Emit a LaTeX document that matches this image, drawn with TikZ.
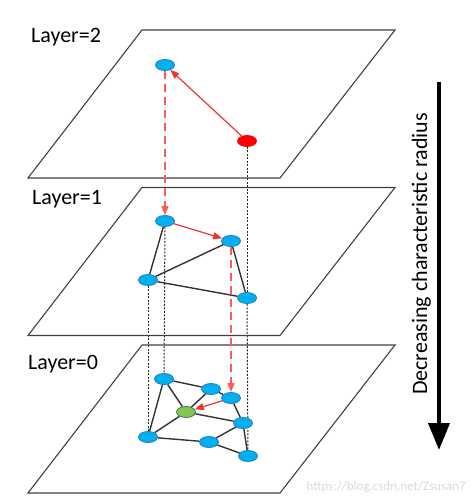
\documentclass[tikz,border=0pt]{standalone}
\usepackage{fontspec}
\setmainfont{Carlito}
\usetikzlibrary{shapes.geometric,arrows.meta}
\pgfdeclarelayer{background}
\pgfsetlayers{background,main}
\definecolor{nodeblue}{RGB}{0,176,240}
\definecolor{nodeedge}{RGB}{30,125,195}
\definecolor{nodegreen}{RGB}{130,200,80}
\definecolor{greenedge}{RGB}{60,125,60}
\definecolor{linkred}{RGB}{240,50,50}
\definecolor{dashred}{RGB}{255,90,90}

\begin{document}
\begin{tikzpicture}[x=1pt,y=-1pt,
    plane/.style={draw=black!75, line width=1.1pt},
    vtx/.style={ellipse, draw=nodeedge, fill=nodeblue, line width=0.8pt, minimum width=19pt, minimum height=11pt, inner sep=0pt},
    entry/.style={vtx, draw=red, fill=red},
    found/.style={vtx, draw=greenedge, fill=nodegreen},
    link/.style={draw=black!80, line width=1.4pt},
    drop/.style={draw=black!85, line width=1pt, dash pattern=on 2pt off 1.5pt},
    hop/.style={draw=linkred, line width=1.2pt, -{Triangle[length=9pt,width=7pt]}},
    descend/.style={draw=dashred, line width=1.6pt, dash pattern=on 8pt off 5pt, -{Triangle[length=9pt,width=7pt]}},
    lab/.style={font=\fontsize{22}{26}\selectfont, inner sep=0pt}]
    \useasboundingbox (0,0) rectangle (474,503);
    % the three layers
    \foreach \k/\dy in {2/0,1/157.5,0/315}
        \draw[plane] (142,30+\dy) -- (395,30+\dy) -- (280,178+\dy) -- (28,178+\dy) -- cycle;
    \node[lab, anchor=base west] (lay2) at (31,43) {Layer=2};
    \node[lab, anchor=base west] (lay1) at (32,204) {Layer=1};
    \node[lab, anchor=base west] (lay0) at (28,369) {Layer=0};
    % layer 2
    \node[vtx] (t1) at (165,65) {};
    \node[entry] (t2) at (247,141) {};
    % layer 1
    \node[vtx] (m1) at (165,221) {};
    \node[vtx] (m2) at (231,241) {};
    \node[vtx] (m3) at (148,280) {};
    \node[vtx] (m4) at (247,298) {};
    % layer 0
    \node[vtx] (b1) at (164,379) {};
    \node[vtx] (b2) at (211,389) {};
    \node[vtx] (b3) at (231,398) {};
    \node[found] (b4) at (186,412) {};
    \node[vtx] (b5) at (243,423) {};
    \node[vtx] (b6) at (148,437) {};
    \node[vtx] (b7) at (209,442) {};
    \node[vtx] (b8) at (248,456) {};
    % drops between layers
    \begin{pgfonlayer}{background}
        \draw[drop] (t2) -- (m4);
        \draw[drop] (m1) -- (b1);
        \draw[drop] (m3) -- (b6);
        \draw[drop] (m4) -- (b8);
    \end{pgfonlayer}
    \draw[descend] (t1) -- (m1);
    \draw[descend] (m2) -- (b3);
    % neighbour links
    \draw[link] (m1) -- (m3) (m3) -- (m2) (m3) -- (m4) (m2) -- (m4);
    \draw[link] (b1) -- (b2) (b2) -- (b3) (b1) -- (b4) (b1) -- (b6) (b2) -- (b4) (b4) -- (b5)
        (b3) -- (b5) (b6) -- (b4) (b6) -- (b7) (b7) -- (b5) (b7) -- (b8) (b5) -- (b8);
    % greedy search
    \draw[hop] (t2) -- (t1);
    \draw[hop] (m1) -- (m2);
    \draw[hop] (b3) -- (b4);
    % direction arrow
    \coordinate (atop) at (439,82);
    \coordinate (abot) at (439,450);
    \draw[line width=4pt, -{Triangle[width=21pt,length=27pt]}] (atop) -- (abot);
    \node[lab, rotate=90, anchor=base] (axis) at (427,254) {Decreasing characteristic radius};
    \node[font=\fontsize{13}{15}\selectfont, text=gray!30, anchor=east, inner sep=0pt] (mark) at (466,487) {https://blog.csdn.net/Zsusan7};
\end{tikzpicture}
\end{document}
